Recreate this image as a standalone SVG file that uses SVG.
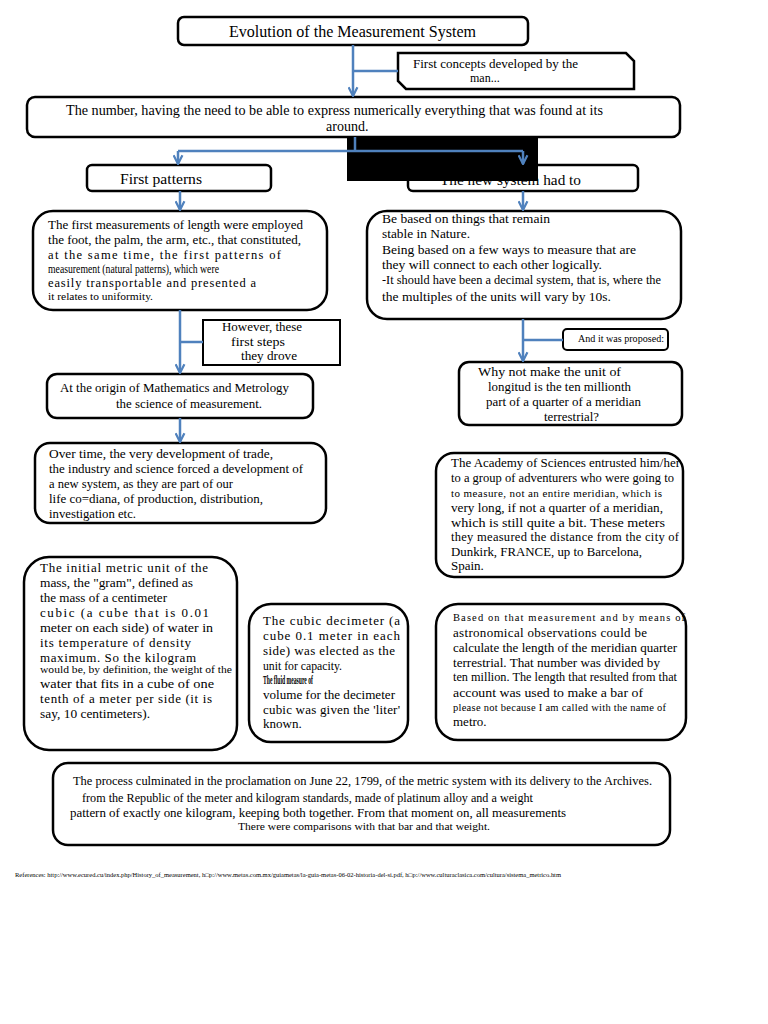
<svg xmlns="http://www.w3.org/2000/svg" width="768" height="1024" viewBox="0 0 768 1024">
<defs>
<style>
.box{fill:#fff;stroke:#000;stroke-width:2.5}
.t{font-family:"Liberation Serif","Times New Roman",serif;fill:#000;font-size:12.5px}
.c{stroke:#4F81BD;stroke-width:2.5;fill:none}
</style>
<marker id="arr" viewBox="0 0 10 10" refX="9" refY="5" markerWidth="11" markerHeight="11" markerUnits="userSpaceOnUse" orient="auto">
<path d="M1,1 L9,5 L1,9" fill="none" stroke="#4F81BD" stroke-width="2"/>
</marker>
</defs>
<rect width="768" height="1024" fill="#fff"/>

<g id="title">
<rect class="box" x="178" y="17" width="350" height="28" rx="6"/>
<text class="t" x="229" y="37" style="font-size:17px" textLength="247" lengthAdjust="spacingAndGlyphs">Evolution of the Measurement System</text>
</g>

<g id="first-concepts">
<path class="box" d="M398,53 L626,53 L634,61 L634,89 L406,89 L398,81 Z"/>
<text class="t" x="413" y="68" style="font-size:12px" textLength="165" lengthAdjust="spacingAndGlyphs">First concepts developed by the</text>
<text class="t" x="470" y="82" style="font-size:12px">man...</text>
</g>

<g id="number">
<rect class="box" x="27" y="97" width="653" height="40" rx="8"/>
<text class="t" x="66" y="115" style="font-size:14px" textLength="537" lengthAdjust="spacingAndGlyphs">The number, having the need to be able to express numerically everything that was found at its</text>
<text class="t" x="326" y="131" style="font-size:14px">around.</text>
</g>

<g id="first-patterns">
<rect class="box" x="87" y="165" width="184" height="26" rx="5"/>
<text class="t" x="120" y="184" style="font-size:14.5px" textLength="82" lengthAdjust="spacingAndGlyphs">First patterns</text>
</g>

<g id="new-system">
<rect class="box" x="408" y="165" width="230" height="26" rx="5"/>
<text class="t" x="440" y="185" style="font-size:14.5px" textLength="141" lengthAdjust="spacingAndGlyphs">The new system had to</text>
</g>

<g id="redaction">
<rect x="347" y="137" width="191" height="44" fill="#000"/>
</g>

<g id="box-a">
<rect class="box" x="33" y="211" width="294" height="99" rx="20"/>
<text class="t" x="48" y="229" textLength="255" lengthAdjust="spacingAndGlyphs">The first measurements of length were employed</text>
<text class="t" x="48" y="244" textLength="253" lengthAdjust="spacingAndGlyphs">the foot, the palm, the arm, etc., that constituted,</text>
<text class="t" x="48" y="259" textLength="233" lengthAdjust="spacing">at the same time, the first patterns of</text>
<text class="t" x="48" y="273" textLength="171" lengthAdjust="spacingAndGlyphs">measurement (natural patterns), which were</text>
<text class="t" x="48" y="287" textLength="208" lengthAdjust="spacing">easily transportable and presented a</text>
<text class="t" x="48" y="300" style="font-size:10.5px" textLength="105" lengthAdjust="spacingAndGlyphs">it relates to uniformity.</text>
</g>

<g id="box-b">
<rect class="box" x="367" y="211" width="314" height="108" rx="20"/>
<text class="t" x="382" y="223" style="font-size:13px" textLength="168" lengthAdjust="spacingAndGlyphs">Be based on things that remain</text>
<text class="t" x="382" y="238" style="font-size:13px" textLength="88" lengthAdjust="spacingAndGlyphs">stable in Nature.</text>
<text class="t" x="382" y="254" style="font-size:13px" textLength="254" lengthAdjust="spacingAndGlyphs">Being based on a few ways to measure that are</text>
<text class="t" x="382" y="269" style="font-size:13px" textLength="220" lengthAdjust="spacingAndGlyphs">they will connect to each other logically.</text>
<text class="t" x="382" y="284" style="font-size:12px" textLength="279" lengthAdjust="spacingAndGlyphs">-It should have been a decimal system, that is, where the</text>
<text class="t" x="382" y="301" style="font-size:13px" textLength="229" lengthAdjust="spacingAndGlyphs">the multiples of the units will vary by 10s.</text>
</g>

<g id="however">
<rect x="203" y="320" width="137" height="45" fill="#fff" stroke="#000" stroke-width="2"/>
<text class="t" x="222" y="331" style="font-size:12px" textLength="80" lengthAdjust="spacingAndGlyphs">However, these</text>
<text class="t" x="231" y="346" style="font-size:12px" textLength="54" lengthAdjust="spacingAndGlyphs">first steps</text>
<text class="t" x="241" y="360" style="font-size:12px" textLength="56" lengthAdjust="spacingAndGlyphs">they drove</text>
</g>

<g id="proposed">
<rect x="563" y="329" width="105" height="21" rx="4" fill="#fff" stroke="#000" stroke-width="2"/>
<text class="t" x="578" y="342" style="font-size:10px" textLength="86" lengthAdjust="spacingAndGlyphs">And it was proposed:</text>
</g>

<g id="box-c">
<rect class="box" x="47" y="374" width="266" height="44" rx="10"/>
<text class="t" x="60" y="392" textLength="229" lengthAdjust="spacingAndGlyphs">At the origin of Mathematics and Metrology</text>
<text class="t" x="116" y="408" textLength="146" lengthAdjust="spacingAndGlyphs">the science of measurement.</text>
</g>

<g id="box-e">
<rect class="box" x="459" y="362" width="223" height="63" rx="10"/>
<text class="t" x="478" y="376" style="font-size:13px" textLength="143" lengthAdjust="spacingAndGlyphs">Why not make the unit of</text>
<text class="t" x="488" y="391" style="font-size:13px" textLength="143" lengthAdjust="spacingAndGlyphs">longitud is the ten millionth</text>
<text class="t" x="486" y="406" style="font-size:13px" textLength="155" lengthAdjust="spacingAndGlyphs">part of a quarter of a meridian</text>
<text class="t" x="544" y="421" style="font-size:13px" textLength="55" lengthAdjust="spacingAndGlyphs">terrestrial?</text>
</g>

<g id="box-d">
<rect class="box" x="35" y="443" width="291" height="80" rx="15"/>
<text class="t" x="49" y="458" textLength="224" lengthAdjust="spacingAndGlyphs">Over time, the very development of trade,</text>
<text class="t" x="49" y="473" textLength="254" lengthAdjust="spacingAndGlyphs">the industry and science forced a development of</text>
<text class="t" x="49" y="488" textLength="184" lengthAdjust="spacingAndGlyphs">a new system, as they are part of our</text>
<text class="t" x="49" y="503" textLength="214" lengthAdjust="spacingAndGlyphs">life co=diana, of production, distribution,</text>
<text class="t" x="49" y="518" textLength="87" lengthAdjust="spacingAndGlyphs">investigation etc.</text>
</g>

<g id="box-f">
<rect class="box" x="436" y="453" width="247" height="124" rx="18"/>
<text class="t" x="451" y="467" style="font-size:13px" textLength="229" lengthAdjust="spacingAndGlyphs">The Academy of Sciences entrusted him/her</text>
<text class="t" x="451" y="482" style="font-size:13px" textLength="223" lengthAdjust="spacingAndGlyphs">to a group of adventurers who were going to</text>
<text class="t" x="451" y="497" style="font-size:11px" textLength="211" lengthAdjust="spacing">to measure, not an entire meridian, which is</text>
<text class="t" x="451" y="512" style="font-size:13px" textLength="212" lengthAdjust="spacingAndGlyphs">very long, if not a quarter of a meridian,</text>
<text class="t" x="451" y="527" style="font-size:13px" textLength="214" lengthAdjust="spacingAndGlyphs">which is still quite a bit. These meters</text>
<text class="t" x="451" y="541" style="font-size:12.5px" textLength="228" lengthAdjust="spacing">they measured the distance from the city of</text>
<text class="t" x="451" y="556" style="font-size:13px" textLength="191" lengthAdjust="spacingAndGlyphs">Dunkirk, FRANCE, up to Barcelona,</text>
<text class="t" x="451" y="570" style="font-size:13px">Spain.</text>
</g>

<g id="box-g">
<rect class="box" x="24" y="557" width="213" height="193" rx="25"/>
<text class="t" x="40" y="572" style="font-size:13px" textLength="168" lengthAdjust="spacing">The initial metric unit of the</text>
<text class="t" x="40" y="587" style="font-size:13px" textLength="153" lengthAdjust="spacingAndGlyphs">mass, the "gram", defined as</text>
<text class="t" x="40" y="602" style="font-size:12px" textLength="127" lengthAdjust="spacingAndGlyphs">the mass of a centimeter</text>
<text class="t" x="40" y="617" style="font-size:13px" textLength="169" lengthAdjust="spacing">cubic (a cube that is 0.01</text>
<text class="t" x="40" y="632" style="font-size:13px" textLength="173" lengthAdjust="spacingAndGlyphs">meter on each side) of water in</text>
<text class="t" x="40" y="647" style="font-size:13px" textLength="151" lengthAdjust="spacing">its temperature of density</text>
<text class="t" x="40" y="662" style="font-size:13px" textLength="156" lengthAdjust="spacing">maximum. So the kilogram</text>
<text class="t" x="40" y="673" style="font-size:10.5px" textLength="192" lengthAdjust="spacingAndGlyphs">would be, by definition, the weight of the</text>
<text class="t" x="40" y="688" style="font-size:13px" textLength="174" lengthAdjust="spacingAndGlyphs">water that fits in a cube of one</text>
<text class="t" x="40" y="703" style="font-size:13px" textLength="172" lengthAdjust="spacing">tenth of a meter per side (it is</text>
<text class="t" x="40" y="718" style="font-size:13px" textLength="110" lengthAdjust="spacingAndGlyphs">say, 10 centimeters).</text>
</g>

<g id="box-h">
<rect class="box" x="249" y="604" width="159" height="138" rx="22"/>
<text class="t" x="263" y="625" style="font-size:13px" textLength="137" lengthAdjust="spacing">The cubic decimeter (a</text>
<text class="t" x="263" y="640" style="font-size:13px" textLength="137" lengthAdjust="spacing">cube 0.1 meter in each</text>
<text class="t" x="263" y="655" style="font-size:13px" textLength="132" lengthAdjust="spacing">side) was elected as the</text>
<text class="t" x="263" y="670" style="font-size:13px" textLength="79" lengthAdjust="spacingAndGlyphs">unit for capacity.</text>
<text class="t" x="263" y="684" style="font-size:12px;font-weight:bold" textLength="50" lengthAdjust="spacingAndGlyphs">The fluid measure of</text>
<text class="t" x="263" y="699" style="font-size:13px" textLength="132" lengthAdjust="spacingAndGlyphs">volume for the decimeter</text>
<text class="t" x="263" y="714" style="font-size:13px" textLength="137" lengthAdjust="spacing">cubic was given the 'liter'</text>
<text class="t" x="263" y="728" style="font-size:13px">known.</text>
</g>

<g id="box-i">
<rect class="box" x="436" y="604" width="250" height="136" rx="22"/>
<text class="t" x="453" y="621" style="font-size:10.5px" textLength="232" lengthAdjust="spacing">Based on that measurement and by means of</text>
<text class="t" x="453" y="637" style="font-size:13px" textLength="194" lengthAdjust="spacing">astronomical observations could be</text>
<text class="t" x="453" y="652" style="font-size:13px" textLength="224" lengthAdjust="spacingAndGlyphs">calculate the length of the meridian quarter</text>
<text class="t" x="453" y="667" style="font-size:13px" textLength="207" lengthAdjust="spacingAndGlyphs">terrestrial. That number was divided by</text>
<text class="t" x="453" y="681" style="font-size:13px" textLength="224" lengthAdjust="spacingAndGlyphs">ten million. The length that resulted from that</text>
<text class="t" x="453" y="697" style="font-size:13px" textLength="190" lengthAdjust="spacingAndGlyphs">account was used to make a bar of</text>
<text class="t" x="453" y="711" style="font-size:10.5px" textLength="213" lengthAdjust="spacing">please not because I am called with the name of</text>
<text class="t" x="453" y="726" style="font-size:13px">metro.</text>
</g>

<g id="box-j">
<rect class="box" x="53" y="763" width="617" height="82" rx="15"/>
<text class="t" x="73" y="785" style="font-size:12px" textLength="579" lengthAdjust="spacingAndGlyphs">The process culminated in the proclamation on June 22, 1799, of the metric system with its delivery to the Archives.</text>
<text class="t" x="82" y="802" style="font-size:12px" textLength="451" lengthAdjust="spacingAndGlyphs">from the Republic of the meter and kilogram standards, made of platinum alloy and a weight</text>
<text class="t" x="70" y="817" style="font-size:12px" textLength="496" lengthAdjust="spacingAndGlyphs">pattern of exactly one kilogram, keeping both together. From that moment on, all measurements</text>
<text class="t" x="238" y="830" style="font-size:11px" textLength="252" lengthAdjust="spacingAndGlyphs">There were comparisons with that bar and that weight.</text>
</g>

<g id="references">
<text class="t" x="15" y="877" style="font-size:5.5px" textLength="546" lengthAdjust="spacingAndGlyphs">References: http://www.ecured.cu/index.php/History_of_measurement, h□p://www.metas.com.mx/guiametas/la-guia-metas-06-02-historia-del-si.pdf, h□p://www.culturaclasica.com/cultura/sistema_metrico.htm</text>
</g>

<g id="connectors">
<path class="c" d="M353,45 V96" marker-end="url(#arr)"/>
<path class="c" d="M353,71 H398"/>
<path class="c" d="M355,137 V151 M178,151 H523"/>
<path class="c" d="M178,151 V164" marker-end="url(#arr)"/>
<path class="c" d="M523,151 V164" marker-end="url(#arr)"/>
<path class="c" d="M180,191 V210" marker-end="url(#arr)"/>
<path class="c" d="M523,191 V210" marker-end="url(#arr)"/>
<path class="c" d="M180,310 V373" marker-end="url(#arr)"/>
<path class="c" d="M180,342 H203"/>
<path class="c" d="M180,418 V442" marker-end="url(#arr)"/>
<path class="c" d="M523,319 V361" marker-end="url(#arr)"/>
<path class="c" d="M523,340 H563"/>
</g>
</svg>
